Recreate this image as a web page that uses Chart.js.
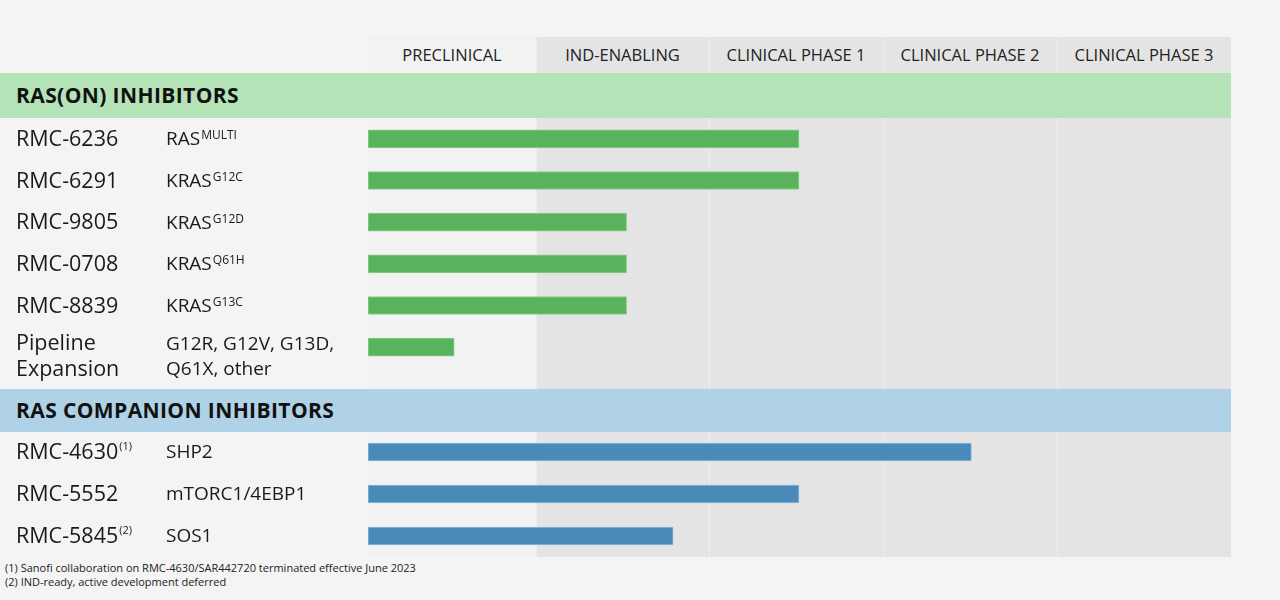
<!DOCTYPE html>
<html>
<head>
<meta charset="utf-8">
<script src="https://cdn.jsdelivr.net/npm/chart.js@4.4.1/dist/chart.umd.min.js"></script>
<style>
  body { margin: 0; background: #f4f4f4; font-family: "Open Sans", sans-serif; color: #1a1a1a; }
  #wrap { position: relative; width: 1280px; height: 600px; overflow: hidden; }
  .col { position: absolute; top: 37px; height: 520px; }
  .sep { position: absolute; top: 37px; height: 520px; width: 2px; background: #eeeeee; }
  .head { position: absolute; top: 37px; height: 35px; line-height: 35px; text-align: center; font-size: 16.5px; color: #222; }
  .band { position: absolute; left: 0; width: 1231px; font-weight: bold; font-size: 21px; letter-spacing: 0.4px; padding-left: 16px; box-sizing: border-box; color: #111; }
  .foot { position: absolute; left: 5px; top: 561px; font-size: 11px; line-height: 14px; color: #222; }
  canvas { position: absolute; left: 0; }
</style>
</head>
<body>
<div id="wrap">
  <div class="band" style="top:73px;height:45px;line-height:45px;background:#b5e3b8;">RAS(ON) INHIBITORS</div>
  <div class="band" style="top:389px;height:43px;line-height:43px;background:#afd2e6;">RAS COMPANION INHIBITORS</div>
  <canvas id="rasOn" width="1231" height="280" style="top:118px"></canvas>
  <canvas id="companion" width="1231" height="126" style="top:431px"></canvas>
  <div class="foot">(1) Sanofi collaboration on RMC-4630/SAR442720 terminated effective June 2023<br>(2) IND-ready, active development deferred</div>
</div>
<script>
// phases (columns)
const phases = ['PRECLINICAL', 'IND-ENABLING', 'CLINICAL PHASE 1', 'CLINICAL PHASE 2', 'CLINICAL PHASE 3'];

// RAS(ON) inhibitors
const rasOnNames = ['RMC-6236', 'RMC-6291', 'RMC-9805', 'RMC-0708', 'RMC-8839', 'Pipeline\nExpansion'];
const rasOnTargets = ['RAS^MULTI', 'KRAS^G12C', 'KRAS^G12D', 'KRAS^Q61H', 'KRAS^G13C', 'G12R, G12V, G13D,\nQ61X, other'];
const rasOnProgress = [2.5, 2.5, 1.5, 1.5, 1.5, 0.5];

// RAS companion inhibitors
const companionNames = ['RMC-4630^(1)', 'RMC-5552', 'RMC-5845^(2)'];
const companionTargets = ['SHP2', 'mTORC1/4EBP1', 'SOS1'];
const companionProgress = [3.5, 2.5, 1.77];

const left = 368, right = 1230;
// column edges of the table background (the first column is a bit narrower)
const colEdges = [368, 536, 709, 883, 1057, 1231];
const wrap = document.getElementById('wrap');

// column backgrounds + header
phases.forEach((p, i) => {
  const x = colEdges[i], w = colEdges[i + 1] - colEdges[i];
  const col = document.createElement('div');
  col.className = 'col';
  col.style.left = x + 'px';
  col.style.width = w + 'px';
  col.style.background = i === 0 ? '#f2f2f2' : '#e4e4e4';
  wrap.insertBefore(col, wrap.firstChild);
  if (i > 0) {
    const s = document.createElement('div');
    s.className = 'sep';
    s.style.left = (x - 1) + 'px';
    wrap.insertBefore(s, wrap.children[1]);
  }
  const h = document.createElement('div');
  h.className = 'head';
  h.style.left = x + 'px';
  h.style.width = w + 'px';
  h.textContent = p;
  wrap.appendChild(h);
});

// text with optional superscript after '^'
function drawSup(ctx, text, x, y, size, supSize, rise) {
  const [base, sup] = text.split('^');
  ctx.font = size + 'px "Open Sans"';
  ctx.fillText(base, x, y);
  if (sup) {
    const w = ctx.measureText(base).width;
    ctx.font = supSize + 'px "Open Sans"';
    ctx.fillText(sup, x + w + 1, y - rise);
  }
}

function drawLines(ctx, text, x, y, size, supSize, rise) {
  const lines = text.split('\n');
  lines.forEach((ln, k) => {
    const yy = lines.length > 1 ? y + (k - 0.15) * 25.5 : y;
    drawSup(ctx, ln, x, yy, size, supSize, rise);
  });
}

const rowLabels = {
  id: 'rowLabels',
  afterDraw(chart, args, opts) {
    const ctx = chart.ctx;
    const yScale = chart.scales.y;
    ctx.save();
    ctx.fillStyle = '#1a1a1a';
    ctx.textBaseline = 'middle';
    opts.names.forEach((n, i) => {
      const y = yScale.getPixelForValue(i) + 1;
      drawLines(ctx, n, 16, y, 21.5, 11, 6);
      drawLines(ctx, opts.targets[i], 166, y, 19, 12, 4);
    });
    ctx.restore();
  }
};

function makeChart(id, names, targets, values, color, border, bottom) {
  return new Chart(document.getElementById(id), {
    type: 'bar',
    data: {
      labels: names,
      datasets: [{
        data: values,
        backgroundColor: color,
        borderColor: border,
        borderWidth: 1,
        borderSkipped: false,
        barThickness: 18
      }]
    },
    options: {
      indexAxis: 'y',
      responsive: false,
      animation: false,
      layout: { padding: { left: left, right: 1231 - right, top: 0, bottom: bottom } },
      scales: {
        x: { min: 0, max: phases.length, display: false },
        y: { display: false }
      },
      plugins: {
        legend: { display: false },
        tooltip: { enabled: false },
        rowLabels: { names: names, targets: targets }
      }
    },
    plugins: [rowLabels]
  });
}

makeChart('rasOn', rasOnNames, rasOnTargets, rasOnProgress, '#59b35c', '#8ccf8e', 30);
makeChart('companion', companionNames, companionTargets, companionProgress, '#4a8ab9', '#8dbbdb', 0);
</script>
</body>
</html>
